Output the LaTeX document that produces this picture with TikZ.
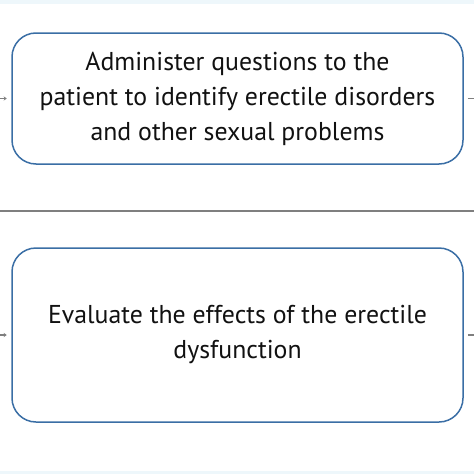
\documentclass[tikz,border=0pt]{standalone}
\usepackage{fontspec}
\setmainfont{PT Sans}
\usetikzlibrary{arrows.meta}
\definecolor{boxblue}{HTML}{3A6EA5}
\definecolor{stripblue}{HTML}{EEF7FB}
\definecolor{linegray}{HTML}{7F7F7F}
\definecolor{textdark}{HTML}{111111}
\tikzset{
  stepbox/.style={draw=boxblue, line width=1.5pt, rounded corners=24pt, fill=white,
    minimum width=451pt, align=center, inner sep=0pt, text=textdark,
    font=\fontsize{25.8}{35}\selectfont},
  stub/.style={draw=linegray, line width=1.3pt},
  inarrow/.style={stub, -{Stealth[length=3pt,width=4pt]}, shorten >=4.5pt},
}
\begin{document}
\begin{tikzpicture}[x=1pt,y=-1pt]
\useasboundingbox (0,0) rectangle (474,474);
\fill[stripblue] (0,0) rectangle (474,3.5);
\fill[stripblue] (0,470.5) rectangle (474,474);
\node[stepbox, minimum height=131pt] (b1) at (237.5,98.5)
  {Administer questions to the\\patient to identify erectile disorders\\and other sexual problems};
\node[stepbox, minimum height=174pt] (b2) at (237.5,335)
  {Evaluate the effects of the erectile\\dysfunction};
\coordinate (l1) at (0,98.5);
\coordinate (r1) at (474,98.5);
\coordinate (l2) at (0,335);
\coordinate (r2) at (474,335);
\coordinate (sepL) at (0,211);
\coordinate (sepR) at (474,211);
\draw[inarrow] (l1) -- (b1.west);
\draw[stub, shorten <=4pt] (b1.east) -- (r1);
\draw[inarrow] (l2) -- (b2.west);
\draw[stub, shorten <=4pt] (b2.east) -- (r2);
\draw[draw=linegray, line width=2.4pt] (sepL) -- (sepR);
\end{tikzpicture}
\end{document}
